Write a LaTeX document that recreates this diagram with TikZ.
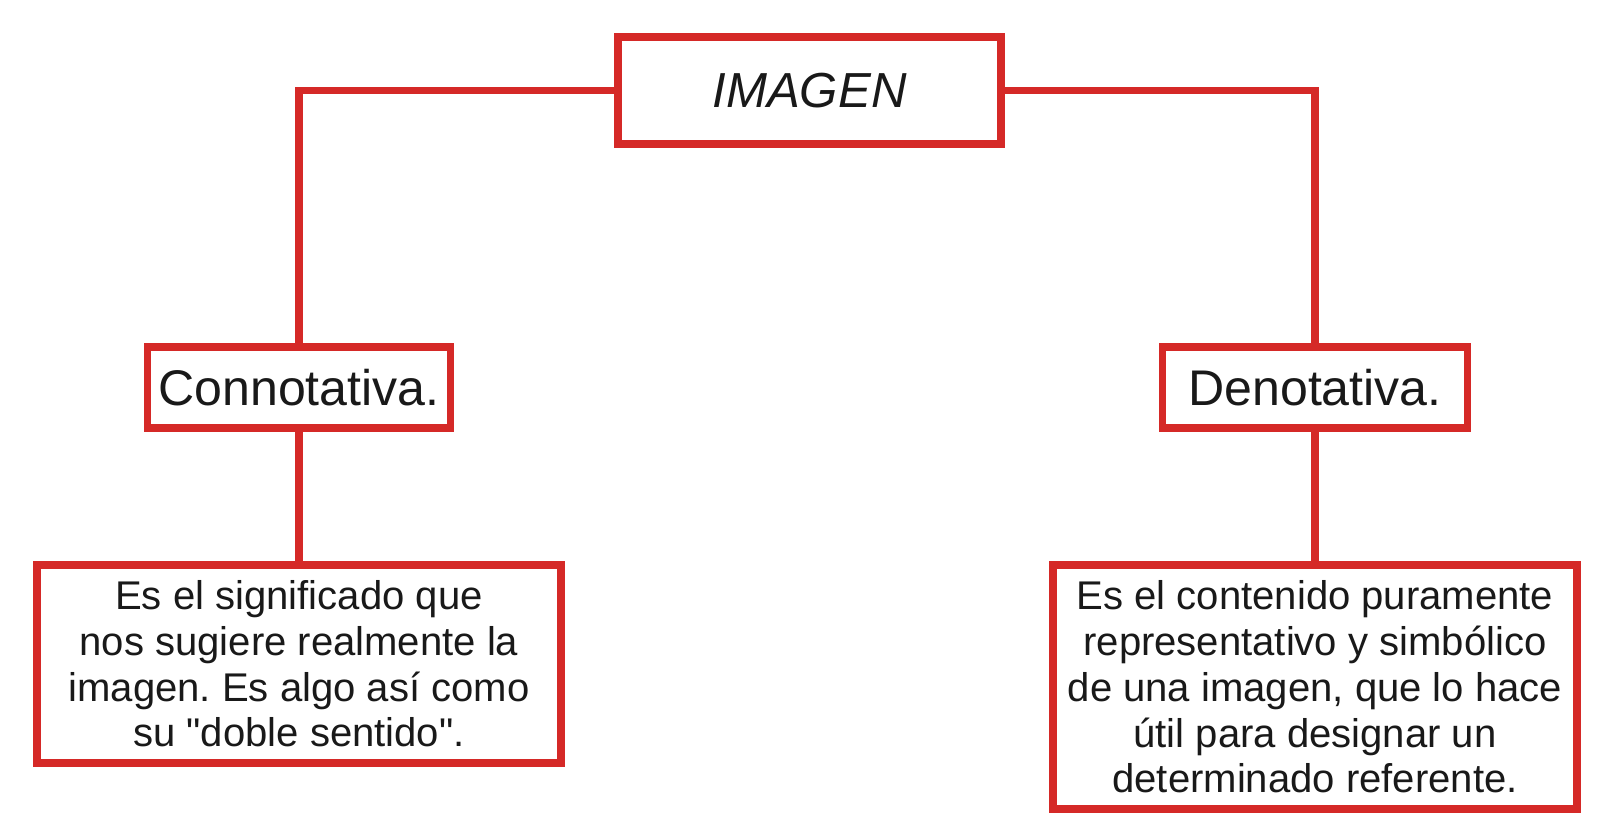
\documentclass[tikz,border=0pt]{standalone}
\usepackage{fontspec}
\setmainfont{Liberation Sans}
\usepackage{xcolor}
\usepackage{tikz}
\definecolor{boxred}{RGB}{213,41,39}
\definecolor{ink}{RGB}{25,25,25}
\tikzset{CNbox/.style={draw=boxred,line width=4pt,fill=white,text=ink,inner sep=0pt},
	CNlink/.style={draw=boxred,line width=4pt}}
\frenchspacing

\begin{document}
\begin{tikzpicture}
	\useasboundingbox (0,0) rectangle (32,16.68);
	\node[CNbox,minimum width=7.66cm,minimum height=2.14cm,font=\fontsize{28}{30}\selectfont\itshape] (img) at (16.19,14.87) {IMAGEN};
	\node[CNbox,minimum width=6.06cm,minimum height=1.62cm,font=\fontsize{28.5}{31}\selectfont] (con) at (5.98,8.93) {Connotativa.};
	\node[CNbox,minimum width=6.10cm,minimum height=1.62cm,font=\fontsize{28.5}{31}\selectfont] (den) at (26.30,8.93) {Denotativa.};
	\node[CNbox,minimum width=10.48cm,minimum height=3.96cm,align=center,font=\fontsize{22.8}{26}\selectfont] (conTxt) at (5.98,3.40)
		{Es el significado que\\nos sugiere realmente la\\imagen. Es algo así como\\su \textquotedbl doble sentido\textquotedbl .};
	\node[CNbox,minimum width=10.48cm,minimum height=4.88cm,align=center,font=\fontsize{22.8}{26}\selectfont] (denTxt) at (26.30,2.94)
		{Es el contenido puramente\\representativo y simbólico\\de una imagen, que lo hace\\útil para designar un\\determinado referente.};
	%
	\draw[CNlink] (img.west) -| (con.north);
	\draw[CNlink] (img.east) -| (den.north);
	\draw[CNlink] (con.south) -- (con.south |- conTxt.north);
	\draw[CNlink] (den.south) -- (den.south |- denTxt.north);
\end{tikzpicture}
\end{document}
